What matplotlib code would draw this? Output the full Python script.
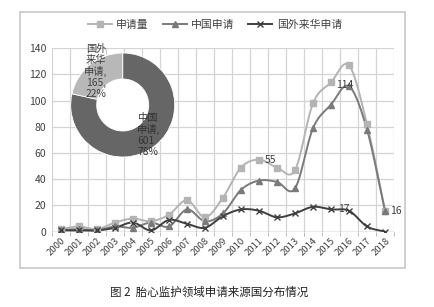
import numpy as np
import matplotlib.pyplot as plt
from matplotlib.lines import Line2D

plt.rcParams['font.family'] = ['Noto Sans CJK SC', 'DejaVu Sans']

# data
years = [str(y) for y in range(2000, 2019)]
total = [2, 4, 2, 7, 10, 8, 13, 24, 11, 26, 49, 55, 49, 47, 98, 114, 127, 82, 16]
china = [1, 2, 1, 4, 3, 7, 4, 17, 8, 14, 32, 39, 38, 33, 79, 97, 111, 78, 16]
foreign = [1, 1, 1, 3, 7, 1, 9, 6, 3, 12, 17, 16, 11, 14, 19, 17, 16, 4, 0]
series_names = ['申请量', '中国申请', '国外来华申请']
pie_names = ['中国\n申请,', '国外\n来华\n申请,']
pie_values = [601, 165]
pie_pcts = ['78%', '22%']

c_total = '#b4b4b4'
c_china = '#7a7a7a'
c_foreign = '#3f3f3f'


def smooth(x, y, n=12):
    # catmull-rom curve through the points, like excel smoothed lines
    x = np.asarray(x, float)
    y = np.asarray(y, float)
    px = np.concatenate([[2 * x[0] - x[1]], x, [2 * x[-1] - x[-2]]])
    py = np.concatenate([[2 * y[0] - y[1]], y, [2 * y[-1] - y[-2]]])
    xs, ys = [], []
    t = np.linspace(0, 1, n, endpoint=False)
    for i in range(1, len(px) - 2):
        for p, out in ((px, xs), (py, ys)):
            p0, p1, p2, p3 = p[i - 1], p[i], p[i + 1], p[i + 2]
            out.extend(0.5 * ((2 * p1) + (-p0 + p2) * t
                              + (2 * p0 - 5 * p1 + 4 * p2 - p3) * t ** 2
                              + (-p0 + 3 * p1 - 3 * p2 + p3) * t ** 3))
    xs.append(x[-1])
    ys.append(y[-1])
    return xs, ys


fig = plt.figure(figsize=(4.34, 3.07), dpi=100)

# outer frame
fig.patches.append(plt.Rectangle((20 / 434, 1 - 268 / 307), 385 / 434, 256 / 307,
                                 transform=fig.transFigure, fill=False,
                                 edgecolor='#c8c8c8', linewidth=1.2))

ax = fig.add_axes([52 / 434, 1 - 231.7 / 307, 342 / 434, 183.4 / 307])
x = np.arange(len(years))

for vals, col, mk, ms in ((total, c_total, 's', 4.5),
                          (china, c_china, '^', 4.5),
                          (foreign, c_foreign, 'x', 4.5)):
    sx, sy = smooth(x, vals)
    ax.plot(sx, sy, color=col, linewidth=1.4, zorder=3)
    ax.plot(x, vals, linestyle='none', marker=mk, color=col, markersize=ms,
            markeredgewidth=1.0, zorder=4)

ax.set_xlim(-0.5, len(years) - 0.5)
ax.set_ylim(0, 140)
ax.set_yticks(range(0, 141, 20))
ax.set_xticks(x)
ax.set_xticklabels(years, rotation=45, ha='right', rotation_mode='anchor')
ax.set_xticks(np.arange(-0.5, len(years)), minor=True)
ax.grid(True, which='major', axis='y', color='#d4d4d4', linewidth=0.9)
ax.grid(True, which='minor', axis='x', color='#d4d4d4', linewidth=0.9)
ax.tick_params(axis='x', which='major', length=0, labelsize=6.8,
               colors='#404040', pad=3)
ax.tick_params(axis='x', which='minor', length=3, color='#b0b0b0')
ax.tick_params(axis='y', length=0, labelsize=7.5, colors='#404040', pad=4)
for s in ax.spines.values():
    s.set_visible(False)
ax.axhline(0, color='#b0b0b0', linewidth=1.0, zorder=2)

# data labels
lab = dict(fontsize=7.5, color='#404040', va='center', ha='left', zorder=5)
ax.text(11 + 0.3, total[11], str(total[11]), **lab)
ax.text(15 + 0.3, total[15] - 2, str(total[15]), **lab)
ax.text(18 + 0.3, total[18], str(total[18]), **lab)
ax.text(15 + 0.4, foreign[15], str(foreign[15]), **lab)

# legend
handles = [Line2D([], [], color=c, marker=m, markersize=4, linewidth=1.4)
           for c, m in ((c_total, 's'), (c_china, '^'), (c_foreign, 'x'))]
fig.legend(handles, series_names, loc='center', ncol=3,
           bbox_to_anchor=(0.495, 1 - 25 / 307), frameon=False,
           fontsize=7.8, handlelength=2.2, columnspacing=1.3,
           handletextpad=0.4, labelcolor='#404040')

# donut inset
pax = fig.add_axes([70.7 / 434, 1 - 157 / 307, 104 / 434, 104 / 307])
pax.add_patch(plt.Circle((0, 0), 0.5, color='white', zorder=0))
pax.pie(pie_values, colors=['#666666', '#b8b8b8'], startangle=90,
        counterclock=False, wedgeprops=dict(width=0.5, edgecolor='white',
                                            linewidth=0.6))
pax.set_xlim(-1, 1)
pax.set_ylim(-1, 1)
pax.set_aspect('equal')
pax.axis('off')

fig.text(96 / 434, 1 - 44 / 307,
         pie_names[1] + '\n' + str(pie_values[1]) + ',\n' + pie_pcts[1],
         ha='center', va='top', fontsize=7.4, color='#404040', linespacing=1.1)
fig.text(137 / 434, 1 - 113 / 307,
         pie_names[0] + '\n' + str(pie_values[0]) + '\n' + pie_pcts[0],
         ha='left', va='top', fontsize=7.4, color='#333333', linespacing=1.1)

fig.text(110 / 434, 1 - 292 / 307, '图 2  胎心监护领域申请来源国分布情况',
         ha='left', va='center', fontsize=8.3, color='#222222')

fig.savefig('out.png', dpi=100, facecolor='white')
